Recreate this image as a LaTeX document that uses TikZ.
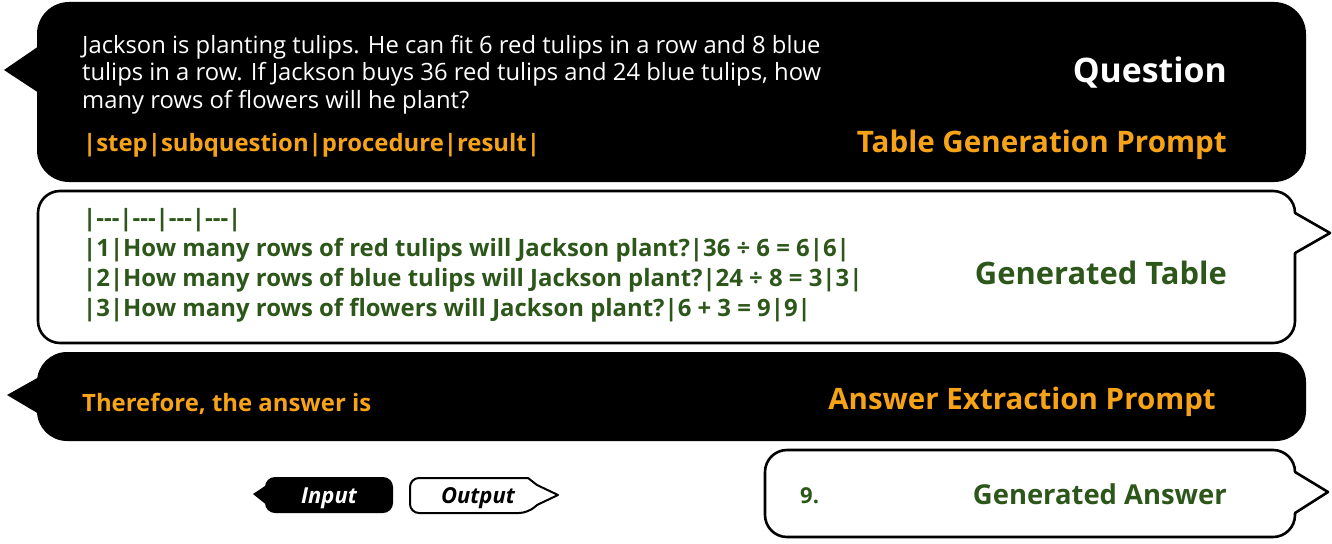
\documentclass[tikz,border=0pt]{standalone}
\usepackage{fontspec}
\setmainfont{Open Sans}
\definecolor{promptorange}{RGB}{247,163,24}
\definecolor{gengreen}{RGB}{45,87,26}
\tikzset{
  blackbox/.style={fill=black},
  whitebox/.style={draw=black, fill=white, line width=2.6pt},
  pointeredge/.style={draw=black, line width=2.6pt, line cap=round, line join=round},
  qtext/.style={text=white, inner sep=0pt, font=\fontsize{23.8}{28}\selectfont},
  otext/.style={text=promptorange, inner sep=0pt, font=\fontsize{23.9}{27}\selectfont\bfseries},
  gtext/.style={text=gengreen, inner sep=0pt, font=\fontsize{23.9}{26}\selectfont\bfseries},
  bigorange/.style={text=promptorange, inner sep=0pt, font=\fontsize{29.6}{33}\selectfont\bfseries},
  biggreen/.style={text=gengreen, inner sep=0pt, font=\fontsize{30.9}{33}\selectfont\bfseries},
  legendtext/.style={inner sep=0pt, font=\fontsize{22}{26}\selectfont\bfseries\itshape},
}
\begin{document}
\begin{tikzpicture}[x=1pt,y=-1pt]
\useasboundingbox (0,0) rectangle (1332,543);
% Box 1: question + table prompt (black, pointer left)
\fill[blackbox, rounded corners=32] (37,2) rectangle (1306,182);
\fill[blackbox] (39,46) -- (4,70) -- (39,93) -- cycle;
% Box 2: generated table (white, pointer right)
\draw[whitebox, rounded corners=22] (38,191) rectangle (1295,343);
\fill[white] (1293,213) -- (1297,213) -- (1330,233) -- (1297,253) -- (1293,253) -- cycle;
\draw[pointeredge] (1295,213) -- (1330,233) -- (1295,253);
% Box 3: answer extraction prompt (black, pointer left)
\fill[blackbox, rounded corners=30] (37,352) rectangle (1306,441);
\fill[blackbox] (39,377) -- (7,395) -- (39,414) -- cycle;
% Box 4: generated answer (white, pointer right)
\draw[whitebox, rounded corners=22] (765,450) rectangle (1295,537);
\fill[white] (1293,472) -- (1297,472) -- (1328,492) -- (1297,513) -- (1293,513) -- cycle;
\draw[pointeredge] (1295,472) -- (1328,492) -- (1295,513);
% Legend: Input
\fill[blackbox, rounded corners=10] (265,477) rectangle (393,513);
\fill[blackbox] (268,484) -- (253,494) -- (268,506) -- cycle;
% Legend: Output
\draw[whitebox, line width=2pt, line join=round] (558,495) -- (537,485) -- (528,478) [rounded corners=9] -- (410,478) -- (410,513) -- (528,513) [sharp corners] -- (537,505) -- cycle;

% Texts
\node[qtext, anchor=base west] (q1) at (82,53) {Jackson is planting tulips. He can fit 6 red tulips in a row and 8 blue};
\node[qtext, anchor=base west] (q2) at (82,80.5) {tulips in a row. If Jackson buys 36 red tulips and 24 blue tulips, how};
\node[qtext, anchor=base west] (q3) at (82,108) {many rows of flowers will he plant?};
\node[otext, anchor=base west] (tgp) at (83,151) {|step|subquestion|procedure|result|};
\node[text=white, inner sep=0pt, font=\fontsize{33.8}{36}\selectfont\bfseries, anchor=base east] (qlabel) at (1227,82) {Question};
\node[bigorange, anchor=base east] (tgplabel) at (1227,152) {Table Generation Prompt};

\node[gtext, anchor=base west] (t0) at (83,226) {|-{}-{}-|-{}-{}-|-{}-{}-|-{}-{}-|};
\node[gtext, anchor=base west] (t1) at (83,256) {|1|How many rows of red tulips will Jackson plant?|36 ÷ 6 = 6|6|};
\node[gtext, anchor=base west] (t2) at (83,286.5) {|2|How many rows of blue tulips will Jackson plant?|24 ÷ 8 = 3|3|};
\node[gtext, anchor=base west] (t3) at (83,316.5) {|3|How many rows of flowers will Jackson plant?|6 + 3 = 9|9|};
\node[biggreen, anchor=base east] (gtlabel) at (1227,284) {Generated Table};

\node[otext, anchor=base west] (aep) at (82,411) {Therefore, the answer is};
\node[bigorange, font=\fontsize{29.5}{33}\selectfont\bfseries, anchor=base east] (aeplabel) at (1216,409) {Answer Extraction Prompt};

\node[gtext, font=\fontsize{22}{26}\selectfont\bfseries, anchor=base west] (ans) at (800,503) {9.};
\node[biggreen, font=\fontsize{27.4}{31}\selectfont\bfseries, anchor=base east] (galabel) at (1227,504) {Generated Answer};

\node[legendtext, text=white, anchor=base] (inlabel) at (329,503) {Input};
\node[legendtext, text=black, anchor=base] (outlabel) at (478,503) {Output};
\end{tikzpicture}
\end{document}
